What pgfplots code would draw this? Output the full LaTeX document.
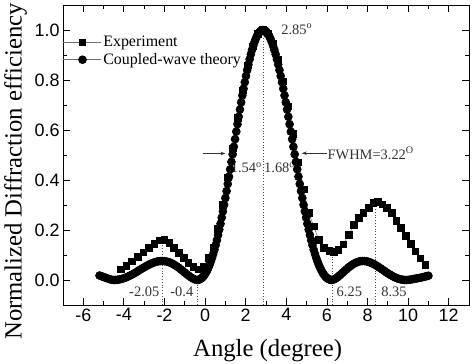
\documentclass[border=0pt]{standalone}
\usepackage{fontspec}
\setmainfont{Liberation Serif}
\newfontfamily\sansf{Liberation Sans}
\usepackage{pgfplots}
\pgfplotsset{compat=1.18}
\usetikzlibrary{arrows.meta}
\begin{document}
\begin{tikzpicture}
\begin{axis}[
  name=main,
  width=406bp, height=300bp, scale only axis,
  xmin=-7, xmax=13, ymin=-0.1, ymax=1.1,
  xtick={-6,-4,...,12}, minor xtick={-7,-5,...,13},
  ytick={0,0.2,0.4,0.6,0.8,1.0}, minor ytick={-0.1,0.1,0.3,0.5,0.7,0.9,1.1},
  tick align=inside, major tick length=7bp, minor tick length=4bp,
  tick style={black, line width=0.8bp},
  axis line style={line width=0.9bp},
  yticklabel style={/pgf/number format/.cd, fixed, fixed zerofill, precision=1},
  /pgf/number format/assume math mode=true,
  tick label style={font=\sansf\fontsize{18}{18}\selectfont},
  xlabel={Angle (degree)}, ylabel={Normalized Diffraction efficiency},
  label style={font=\fontsize{24.8}{24.8}\selectfont},
  xlabel style={at={(axis description cs:0.504,-0.173)}, anchor=base},
  ylabel style={at={(axis description cs:-0.1017,0.445)}, anchor=base},
  legend style={at={(axis description cs:0,0.846)}, anchor=west, draw=none, fill=none,
    font=\fontsize{16}{16}\selectfont, inner sep=0pt, row sep=2bp, nodes={inner sep=1.5bp}},
  legend cell align=left,
  legend image code/.code={\draw[mark repeat=2,mark phase=2,#1] plot coordinates {(0bp,0bp) (19bp,0bp) (38bp,0bp)};},
]
% annotations
\draw[black!70, line width=0.7bp, dash pattern=on 0.8bp off 2bp] (axis cs:2.85,-0.1) -- (axis cs:2.85,1.0);
\draw[black!70, line width=0.7bp, dash pattern=on 0.8bp off 2bp] (axis cs:-2.1,-0.1) -- (axis cs:-2.1,0.16);
\draw[black!70, line width=0.7bp, dash pattern=on 0.8bp off 2bp] (axis cs:-0.4,-0.1) -- (axis cs:-0.4,0.0);
\draw[black!70, line width=0.7bp, dash pattern=on 0.8bp off 2bp] (axis cs:6.25,-0.1) -- (axis cs:6.25,0.11);
\draw[black!70, line width=0.7bp, dash pattern=on 0.8bp off 2bp] (axis cs:8.37,-0.1) -- (axis cs:8.37,0.31);
\node[anchor=east, inner sep=0.5bp, text=black!80, font=\fontsize{14.5}{14.5}\selectfont] at (axis cs:-2.22,-0.047) {-2.05};
\node[anchor=east, inner sep=0.5bp, text=black!80, font=\fontsize{14.5}{14.5}\selectfont] at (axis cs:-0.55,-0.047) {-0.4};
\node[anchor=west, inner sep=0.5bp, text=black!80, font=\fontsize{14.5}{14.5}\selectfont] at (axis cs:6.45,-0.047) {6.25};
\node[anchor=west, inner sep=0.5bp, text=black!80, font=\fontsize{14.5}{14.5}\selectfont] at (axis cs:8.65,-0.047) {8.35};
\node[anchor=west, inner sep=0.5bp, text=black!80, font=\fontsize{14.5}{14.5}\selectfont] at (axis cs:3.72,1.003) {2.85\textsuperscript{o}};
\node[anchor=east, inner sep=0bp, text=black!80, font=\fontsize{14.5}{14.5}\selectfont] at (axis cs:2.80,0.45) {1.54\textsuperscript{o}};
\node[anchor=west, inner sep=0bp, text=black!80, font=\fontsize{14.5}{14.5}\selectfont] at (axis cs:2.90,0.45) {1.68\textsuperscript{o}};
\node[anchor=west, inner sep=0.5bp, text=black!80, font=\fontsize{14.5}{14.5}\selectfont] at (axis cs:6.0,0.507) {FWHM=3.22\textsuperscript{O}};
\draw[-{Stealth[length=5bp,width=3.5bp]}, line width=0.6bp, black!80] (axis cs:-0.1,0.506) -- (axis cs:1.0,0.506);
\draw[-{Stealth[length=5bp,width=3.5bp]}, line width=0.6bp, black!80] (axis cs:6.0,0.507) -- (axis cs:4.76,0.507);
% Experiment
\addplot[color=black!55, line width=0.6bp, mark=square*, mark size=3.3bp, mark options={black, solid}] coordinates {
(-4.15,0.043) (-3.88,0.058) (-3.60,0.075) (-3.33,0.093) (-3.05,0.111) (-2.78,0.129) (-2.51,0.146) (-2.25,0.159) (-2.00,0.160) (-1.77,0.148) (-1.53,0.130) (-1.29,0.110) (-1.06,0.090) (-0.82,0.070) (-0.58,0.053) (-0.33,0.043) (-0.08,0.052) (0.16,0.088) (0.40,0.130) (0.64,0.205) (0.88,0.301) (1.12,0.410) (1.36,0.527) (1.61,0.649) (1.85,0.759) (2.10,0.858) (2.35,0.935) (2.60,0.984) (2.85,1.000) (3.10,0.986) (3.35,0.945) (3.60,0.880) (3.85,0.794) (4.10,0.694) (4.35,0.584) (4.60,0.471) (4.85,0.363) (5.10,0.268) (5.35,0.215) (5.60,0.160) (5.85,0.130) (6.11,0.116) (6.33,0.112) (6.57,0.120) (6.81,0.143) (7.08,0.182) (7.33,0.222) (7.56,0.250) (7.80,0.270) (8.05,0.290) (8.29,0.308) (8.50,0.312) (8.72,0.303) (8.96,0.288) (9.20,0.268) (9.42,0.238) (9.65,0.208) (9.88,0.178) (10.12,0.146) (10.36,0.115) (10.60,0.087) (10.85,0.060)
};
\addlegendentry{Experiment}
% Coupled-wave theory
\addplot[color=black!55, line width=0.6bp, mark=*, mark size=4bp, mark options={black, solid}] coordinates {
(-5.2,0.018) (-5.1,0.015) (-5.0,0.012) (-4.9,0.009) (-4.8,0.006) (-4.7,0.003) (-4.6,0.001) (-4.5,0.0)
(-4.4,0.0003) (-4.3,0.0012) (-4.2,0.0026) (-4.1,0.0046) (-4.0,0.0071) (-3.9,0.0101) (-3.8,0.0136) (-3.7,0.0175) (-3.6,0.0218) (-3.5,0.0263)
(-3.4,0.0311) (-3.3,0.0361) (-3.2,0.0411) (-3.1,0.0461) (-3.0,0.0509) (-2.9,0.0556) (-2.8,0.0600) (-2.7,0.0641) (-2.6,0.0676) (-2.5,0.0707)
(-2.4,0.0731) (-2.3,0.0748) (-2.2,0.0758) (-2.1,0.0760) (-2.0,0.0754) (-1.9,0.0739) (-1.8,0.0717) (-1.7,0.0686) (-1.6,0.0647) (-1.5,0.0601)
(-1.4,0.0549) (-1.3,0.0491) (-1.2,0.0429) (-1.1,0.0364) (-1.0,0.0297) (-0.9,0.0231) (-0.8,0.0167) (-0.7,0.0109) (-0.6,0.0058) (-0.5,0.0020)
(-0.377,0.0001) (-0.317,0.0010) (-0.257,0.0029) (-0.197,0.0059) (-0.138,0.0100) (-0.078,0.0153) (-0.018,0.0218) (0.042,0.0296) (0.102,0.0387)
(0.161,0.0491) (0.221,0.0608) (0.281,0.0739) (0.341,0.0883) (0.400,0.1040) (0.460,0.1211) (0.520,0.1395) (0.580,0.1591) (0.639,0.1799)
(0.699,0.2020) (0.759,0.2252) (0.819,0.2494) (0.878,0.2747) (0.938,0.3009) (0.998,0.3279) (1.058,0.3557) (1.117,0.3842) (1.177,0.4133)
(1.237,0.4428) (1.297,0.4726) (1.356,0.5028) (1.416,0.5330) (1.476,0.5633) (1.536,0.5934) (1.595,0.6233) (1.655,0.6529) (1.715,0.6820)
(1.775,0.7105) (1.834,0.7382) (1.894,0.7651) (1.954,0.7911) (2.014,0.8160) (2.073,0.8396) (2.133,0.8620) (2.193,0.8830) (2.253,0.9025)
(2.312,0.9205) (2.372,0.9368) (2.432,0.9513) (2.492,0.9640) (2.551,0.9749) (2.611,0.9839) (2.671,0.9909) (2.731,0.9960) (2.790,0.9990)
(2.850,1.0000)
(2.913,0.9990) (2.975,0.9960) (3.038,0.9909) (3.100,0.9839) (3.163,0.9749) (3.225,0.9640) (3.288,0.9513) (3.350,0.9368) (3.413,0.9205)
(3.475,0.9025) (3.538,0.8830) (3.600,0.8620) (3.663,0.8396) (3.725,0.8160) (3.788,0.7911) (3.850,0.7651) (3.913,0.7382) (3.975,0.7105)
(4.038,0.6820) (4.100,0.6529) (4.163,0.6233) (4.225,0.5934) (4.288,0.5633) (4.350,0.5330) (4.413,0.5028) (4.475,0.4726) (4.538,0.4428)
(4.600,0.4133) (4.663,0.3842) (4.725,0.3557) (4.788,0.3279) (4.850,0.3009) (4.913,0.2747) (4.975,0.2494) (5.038,0.2252) (5.100,0.2020)
(5.163,0.1799) (5.225,0.1591) (5.288,0.1395) (5.350,0.1211) (5.413,0.1040) (5.475,0.0883) (5.538,0.0739) (5.600,0.0608) (5.663,0.0491)
(5.725,0.0387) (5.788,0.0296) (5.850,0.0218) (5.913,0.0153) (5.975,0.0100) (6.038,0.0059) (6.100,0.0029) (6.163,0.0010) (6.225,0.0001)
(6.339,0.0020) (6.428,0.0058) (6.517,0.0109) (6.606,0.0167) (6.695,0.0231) (6.784,0.0297) (6.873,0.0364) (6.962,0.0429) (7.051,0.0491)
(7.140,0.0549) (7.229,0.0601) (7.318,0.0647) (7.407,0.0686) (7.496,0.0717) (7.585,0.0739) (7.674,0.0754) (7.763,0.0760) (7.852,0.0758)
(7.941,0.0748) (8.030,0.0731) (8.119,0.0707) (8.208,0.0676) (8.297,0.0641) (8.386,0.0600) (8.476,0.0556) (8.565,0.0509) (8.654,0.0461)
(8.743,0.0411) (8.832,0.0361) (8.921,0.0311) (9.010,0.0263) (9.099,0.0218) (9.188,0.0175) (9.277,0.0136) (9.366,0.0101) (9.455,0.0071)
(9.544,0.0046) (9.633,0.0026) (9.722,0.0012) (9.811,0.0003) (9.9,0.0)
(10.0,0.0005) (10.1,0.0015) (10.2,0.003) (10.3,0.0045) (10.4,0.006) (10.5,0.0075) (10.6,0.009) (10.7,0.011) (10.8,0.013) (10.9,0.015) (11.0,0.017)
};
\addlegendentry{Coupled-wave theory}
\end{axis}
\pgfresetboundingbox
\path[use as bounding box] ([shift={(-63bp,-59bp)}]main.south west) rectangle ([shift={(5bp,5bp)}]main.north east);
\end{tikzpicture}
\end{document}
